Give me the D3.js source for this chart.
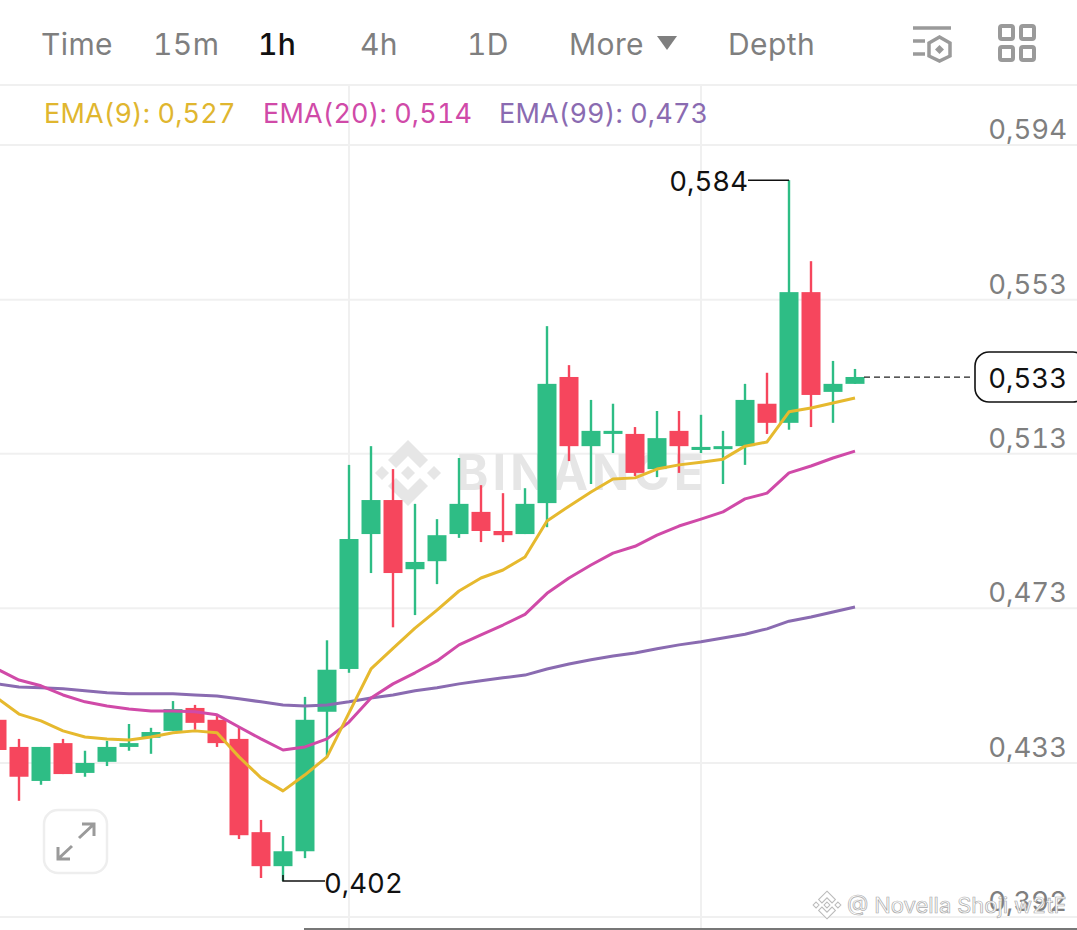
<!DOCTYPE html>
<html>
<head>
<meta charset="utf-8">
<script src="https://cdn.jsdelivr.net/npm/d3@7"></script>
<style>
  html, body { margin: 0; padding: 0; background: #fff; overflow: hidden; }
  text { font-family: Inter, "Noto Sans", sans-serif; font-variant-numeric: tabular-nums; }
</style>
</head>
<body>
<div id="chart"></div>
<script>
// candle values
const opens  = [.4436,.4365,.4276,.4375,.4297,.4326,.4365,.4389,.4407,.4467,.4436,.4386,.4142,.4053,.4092,.4457,.4569,.4922,.5011,.4830,.4851,.4922,.4980,.4930,.4922,.5003,.5333,.5152,.5184,.5184,.5092,.5192,.5142,.5145,.5152,.5263,.5213,.5555,.5294,.5315];
const closes = [.4357,.4287,.4365,.4294,.4323,.4365,.4375,.4404,.4464,.4428,.4375,.4134,.4053,.4092,.4436,.4567,.4909,.5011,.4820,.4849,.4919,.5001,.4930,.4919,.5001,.5315,.5152,.5192,.5192,.5082,.5173,.5152,.5150,.5152,.5273,.5213,.5555,.5286,.5315,.5333];
const highs  = [.4436,.4386,.4365,.4386,.4355,.4381,.4425,.4415,.4485,.4475,.4446,.4417,.4174,.4132,.4496,.4644,.5103,.5152,.5092,.5001,.4961,.5121,.5050,.5029,.5042,.5466,.5364,.5273,.5263,.5202,.5244,.5244,.5234,.5192,.5315,.5344,.5848,.5636,.5375,.5354];
const lows   = [.4357,.4224,.4266,.4294,.4287,.4315,.4355,.4347,.4407,.4410,.4365,.4124,.4022,.4014,.4074,.4339,.4559,.4820,.4678,.4710,.4791,.4912,.4901,.4901,.4922,.4940,.5113,.5053,.5134,.5074,.5071,.5082,.5134,.5053,.5103,.5184,.5195,.5202,.5213,.5315];

const ema9  = [.4493,.4451,.4433,.4407,.4391,.4386,.4383,.4391,.4402,.4407,.4402,.4339,.4284,.4250,.4292,.4339,.4454,.4569,.4623,.4676,.4723,.4773,.4807,.4828,.4862,.4956,.4995,.5032,.5066,.5069,.5092,.5103,.5110,.5118,.5152,.5163,.5242,.5252,.5265,.5278];
const ema20 = [.4569,.4540,.4525,.4501,.4483,.4472,.4464,.4459,.4459,.4457,.4449,.4417,.4386,.4357,.4365,.4386,.4430,.4493,.4530,.4559,.4590,.4632,.4658,.4684,.4712,.4767,.4807,.4841,.4872,.4890,.4919,.4943,.4961,.4980,.5014,.5029,.5082,.5100,.5121,.5139];
const ema99 = [.4530,.4522,.4520,.4517,.4512,.4507,.4504,.4504,.4504,.4501,.4498,.4491,.4483,.4475,.4472,.4475,.4483,.4493,.4501,.4512,.4520,.4530,.4538,.4546,.4553,.4569,.4582,.4593,.4603,.4611,.4622,.4632,.4640,.4650,.4660,.4674,.4694,.4705,.4718,.4731];

const priceTicks = [.594,.5535,.5132,.4728,.4323,.392];
const tickLabels = ["0,594","0,553","0,513","0,473","0,433","0,392"];
const timeSlots = [16,32]; // the two vertical grid lines
const navItems = ["Time","15m","1h","4h","1D","More","Depth"];
const navX = [41,153,258,360,467,569,728];
const legendLabels = ["EMA(9): 0,527","EMA(20): 0,514","EMA(99): 0,473"];
const legendX = [44,263,499];
const lastPrice = .5330, highPrice = .5848, lowPrice = .4014;

const green = "#2ebd85", red = "#f6465d";
const grid = "#f0f0f0", gray = "#7f7f7f", icon = "#9a9a9a";

const svg = d3.select("#chart").append("svg")
    .attr("width", 1077)
    .attr("height", 930);

let x = d3.scaleLinear().domain([0, 39]).range([-3, 855]);
let y = d3.scaleLinear().domain([.392, .594]).range([917, 145]);

// grid
let gridG = svg.append("g");
gridG.append("line").attr("x1",0).attr("x2",1077).attr("y1",85).attr("y2",85).style("stroke",grid).style("stroke-width",2);
gridG.selectAll(".h").data(priceTicks).enter().append("line")
    .attr("x1",0).attr("x2",1077)
    .attr("y1",d => y(d)).attr("y2",d => y(d))
    .style("stroke",grid).style("stroke-width",2);
gridG.selectAll(".v").data(timeSlots).enter().append("line")
    .attr("x1",d => x(d)).attr("x2",d => x(d))
    .attr("y1",85).attr("y2",930)
    .style("stroke",grid).style("stroke-width",2);

// BINANCE watermark, sits under the candles
let mark = svg.append("g").attr("transform","translate(408,473)").style("fill","#e6e6e6");
const logo = g => {
  g.append("path").attr("d","M0,-33 L20,-13 L12,-5 L0,-17 L-12,-5 L-20,-13 Z");
  g.append("path").attr("d","M0,33 L20,13 L12,5 L0,17 L-12,5 L-20,13 Z");
  g.append("path").attr("d","M0,-7 L7,0 L0,7 L-7,0 Z");
  g.append("path").attr("d","M-26,-7 L-19,0 L-26,7 L-33,0 Z");
  g.append("path").attr("d","M26,-7 L33,0 L26,7 L19,0 Z");
};
logo(mark);
svg.append("text").attr("x",456).attr("y",490).text("BINANCE")
    .style("font-size","49px").style("font-weight",700).style("fill","#e6e6e6")
    .style("letter-spacing","4px");

// candles
let candles = svg.selectAll(".candle").data(opens.map((o,i) => i)).enter().append("g").attr("class","candle");
candles.append("line")
    .attr("x1",i => x(i)).attr("x2",i => x(i))
    .attr("y1",i => y(highs[i])).attr("y2",i => y(lows[i]))
    .style("stroke",i => closes[i] >= opens[i] ? green : red)
    .style("stroke-width",2.4);
candles.append("rect")
    .attr("x",i => x(i) - 9.5).attr("width",19)
    .attr("y",i => y(Math.max(opens[i],closes[i])))
    .attr("height",i => Math.max(3, Math.abs(y(opens[i]) - y(closes[i]))))
    .style("fill",i => closes[i] >= opens[i] ? green : red);

// moving averages
let line = d3.line().x((d,i) => x(i)).y(d => y(d));
[[ema99,"#8a6bb1"],[ema20,"#d04aa8"],[ema9,"#e6b92e"]].forEach(s => {
  svg.append("path").attr("d",line(s[0]))
      .style("fill","none").style("stroke",s[1]).style("stroke-width",3)
      .style("stroke-linejoin","round");
});

// header
svg.selectAll(".nav").data(navItems).enter().append("text")
    .attr("x",(d,i) => navX[i]).attr("y",55)
    .text(d => d)
    .style("font-size","30px")
    .style("letter-spacing",".4px")
    .style("fill",d => d == "1h" ? "#111" : gray)
    .style("font-weight",d => d == "1h" ? 500 : 400);
svg.append("path").attr("d","M657,36 L677,36 L667,50 Z").style("fill",gray);

// indicator icon
let ic = svg.append("g").style("stroke",icon).style("stroke-width",3.5).style("fill","none");
ic.append("path").attr("d","M913,28 L951,28 M913,41 L925,41 M913,54 L925,54");
ic.append("path").attr("d","M939.500,37 L950,43 L950,56 L939.500,61 L929,56 L929,43 Z");
ic.append("path").attr("d","M939.500,45 L944,49.500 L939.500,54 L935,49.500 Z").style("fill",icon).style("stroke","none");
// layout icon
[[1000,26],[1021,26],[1000,47],[1021,47]].forEach(p => {
  svg.append("rect").attr("x",p[0]).attr("y",p[1]).attr("width",13).attr("height",13).attr("rx",2)
      .style("fill","none").style("stroke",icon).style("stroke-width",4);
});

// legend
svg.selectAll(".legend").data(legendLabels).enter().append("text")
    .attr("x",(d,i) => legendX[i]).attr("y",123)
    .text(d => d)
    .style("font-size","27px")
    .style("letter-spacing",".15px")
    .style("fill",(d,i) => ["#e0b62f","#d04aa8","#8a6bb1"][i]);

// price axis
svg.selectAll(".tick").data(priceTicks).enter().append("text")
    .attr("x",1067).attr("y",d => y(d) - 6)
    .attr("text-anchor","end")
    .text((d,i) => tickLabels[i])
    .style("font-size","27.500px").style("fill",gray);

// high and low call-outs
svg.append("path").attr("d",`M${x(36)},${y(highPrice)} L748,${y(highPrice)}`).style("stroke","#111").style("stroke-width",1.5).style("fill","none");
svg.append("text").attr("x",748).attr("y",y(highPrice) + 11).attr("text-anchor","end").text("0,584")
    .style("font-size","27.500px").style("fill","#111");
svg.append("path").attr("d",`M${x(13)},${y(lowPrice) - 6} L${x(13)},${y(lowPrice)} L325,${y(lowPrice)}`).style("stroke","#111").style("stroke-width",1.5).style("fill","none");
svg.append("text").attr("x",324).attr("y",y(lowPrice) + 12).text("0,402")
    .style("font-size","27.500px").style("fill","#111");

// last price
svg.append("line").attr("x1",x(39) + 9).attr("x2",972).attr("y1",y(lastPrice)-1).attr("y2",y(lastPrice)-1)
    .style("stroke","#222").style("stroke-width",1.4).style("stroke-dasharray","6 4");
svg.append("rect").attr("x",975).attr("y",352).attr("width",112).attr("height",50).attr("rx",14)
    .style("fill","#fff").style("stroke","#111").style("stroke-width",1.6);
svg.append("text").attr("x",1067).attr("y",388).attr("text-anchor","end").text("0,533")
    .style("font-size","27.500px").style("fill","#111");

// expand button
svg.append("rect").attr("x",44).attr("y",810).attr("width",63).attr("height",63).attr("rx",14)
    .style("fill","#fff").style("stroke","#eeeeee").style("stroke-width",2.5);
svg.append("path").attr("d","M79,838 L94,824 M82,824 L94,824 L94,836 M72,846 L58,859 M58,847 L58,859 L70,859")
    .style("fill","none").style("stroke",icon).style("stroke-width",3);

// bottom bar and repost watermark
svg.append("line").attr("x1",304).attr("x2",1077).attr("y1",929).attr("y2",929).style("stroke","#777").style("stroke-width",2);
let wm = svg.append("g").attr("transform","translate(827,905) scale(.42)")
    .style("fill","#fff").style("stroke","#bbb").style("stroke-width",2.5);
logo(wm);
svg.append("text").attr("x",847).attr("y",913).text("@ Novella Shoji w2tF")
    .style("font-size","22px").style("fill","#fff").style("stroke","#aaa").style("stroke-width",.7);
</script>
</body>
</html>
